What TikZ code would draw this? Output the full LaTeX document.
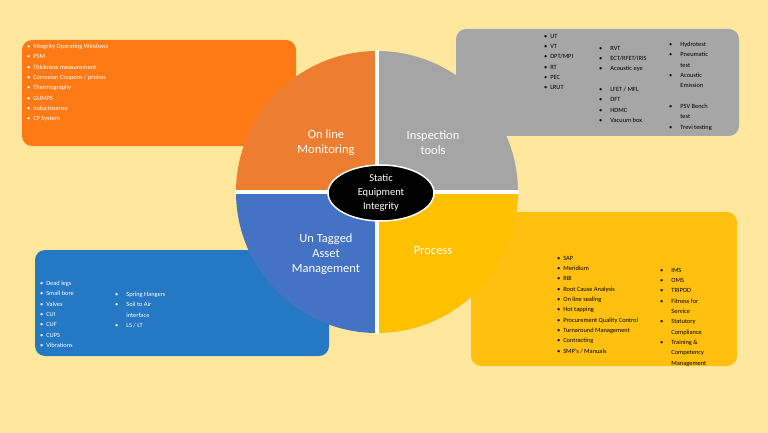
\documentclass[tikz,border=0pt]{standalone}
\usepackage{fontspec}
\setmainfont{Carlito}
\usetikzlibrary{shapes.geometric}
\definecolor{bg}{HTML}{FFE89E}
\definecolor{cOr}{HTML}{ED7D31}
\definecolor{cGr}{HTML}{A5A5A5}
\definecolor{cYe}{HTML}{FFC000}
\definecolor{cBl}{HTML}{4472C4}
\definecolor{bOr}{HTML}{FF7A14}
\definecolor{bGr}{HTML}{A6A6A6}
\definecolor{bYe}{HTML}{FFC010}
\definecolor{bBl}{HTML}{2478C4}
\begin{document}
\begin{tikzpicture}[x=1pt,y=-1pt,
  box/.style={rounded corners=10pt},
  lst/.style={anchor=north west,align=left,inner sep=0pt,font=\fontsize{6.4}{10.3}\selectfont},
  ttl/.style={align=center,text=white,font=\fontsize{12.5}{15}\selectfont}]
\fill[bg] (0,0) rectangle (768,433);
\useasboundingbox (0,0) rectangle (768,433);
% boxes
\fill[bOr,box] (22,40) rectangle (296,146);
\fill[bGr,box] (456,29) rectangle (739,136);
\fill[bYe,box] (471,212) rectangle (737,366);
\fill[bBl,box] (35,250) rectangle (329,356);
% circle quadrants
\coordinate (c) at (377,192);
\fill[cOr] (c) -- ++(-141,0) arc[start angle=180,end angle=270,radius=141] -- cycle;
\fill[cGr] (c) -- ++(0,-141) arc[start angle=270,end angle=360,radius=141] -- cycle;
\fill[cYe] (c) -- ++(141,0) arc[start angle=0,end angle=90,radius=141] -- cycle;
\fill[cBl] (c) -- ++(0,141) arc[start angle=90,end angle=180,radius=141] -- cycle;
\draw[white,line width=4pt] (235,192) -- (519,192) (377,50) -- (377,334);
\node[ttl] (q1) at (326,143) {On line\\Monitoring};
\node[ttl] (q2) at (433,143) {Inspection\\tools};
\node[ttl] (q3) at (326,254) {Un Tagged\\Asset\\Management};
\node[ttl] (q4) at (433,251) {Process};
\node[ellipse,fill=black,draw=white,line width=1.5pt,minimum width=106pt,minimum height=56pt,text=white,align=center,inner sep=0pt,font=\fontsize{10.5}{14}\selectfont] (ctr) at (381,193) {Static\\Equipment\\Integrity};
% lists
\node[lst,text=white] (l1) at (27,44) {\textbullet\ \ Integrity Operating Windows\\ \textbullet\ \ PSM\\ \textbullet\ \ Thickness measurement\\ \textbullet\ \ Corrosion Coupons / probes\\ \textbullet\ \ Thermography\\ \textbullet\ \ GUMPS\\ \textbullet\ \ Inductosense\\ \textbullet\ \ CP System};
\node[lst] (g1) at (544,34) {\textbullet\ \ UT\\ \textbullet\ \ VT\\ \textbullet\ \ DPT/MPI\\ \textbullet\ \ RT\\ \textbullet\ \ PEC\\ \textbullet\ \ LRUT};
\node[lst] (g2) at (599,46) {\textbullet\hspace{8pt}RVT\\ \textbullet\hspace{8pt}ECT/RFET/IRIS\\ \textbullet\hspace{8pt}Acoustic eye\\ ~\\ \textbullet\hspace{8pt}LFET / MFL\\ \textbullet\hspace{8pt}DFT\\ \textbullet\hspace{8pt}HDMC\\ \textbullet\hspace{8pt}Vacuum box};
\node[lst] (g3) at (669,42) {\textbullet\hspace{8pt}Hydrotest\\ \textbullet\hspace{8pt}Pneumatic\\ \phantom{\textbullet}\hspace{8pt}test\\ \textbullet\hspace{8pt}Acoustic\\ \phantom{\textbullet}\hspace{8pt}Emission\\ ~\\ \textbullet\hspace{8pt}PSV Bench\\ \phantom{\textbullet}\hspace{8pt}test\\ \textbullet\hspace{8pt}Trevi testing};
\node[lst] (y1) at (557,256) {\textbullet\ \ SAP\\ \textbullet\ \ Meridium\\ \textbullet\ \ RBI\\ \textbullet\ \ Root Cause Analysis\\ \textbullet\ \ On line sealing\\ \textbullet\ \ Hot tapping\\ \textbullet\ \ Procurement Quality Control\\ \textbullet\ \ Turnaround Management\\ \textbullet\ \ Contracting\\ \textbullet\ \ SMP's / Manuals};
\node[lst] (y2) at (660,268) {\textbullet\hspace{8pt}IMS\\ \textbullet\hspace{8pt}OMS\\ \textbullet\hspace{8pt}TRIPOD\\ \textbullet\hspace{8pt}Fitness for\\ \phantom{\textbullet}\hspace{8pt}Service\\ \textbullet\hspace{8pt}Statutory\\ \phantom{\textbullet}\hspace{8pt}Compliance\\ \textbullet\hspace{8pt}Training \&\\ \phantom{\textbullet}\hspace{8pt}Competency\\ \phantom{\textbullet}\hspace{8pt}Management};
\node[lst,text=white] (b1) at (40,281) {\textbullet\ \ Dead legs\\ \textbullet\ \ Small bore\\ \textbullet\ \ Valves\\ \textbullet\ \ CUI\\ \textbullet\ \ CUF\\ \textbullet\ \ CUPS\\ \textbullet\ \ Vibrations};
\node[lst,text=white] (b2) at (115,292) {\textbullet\hspace{8pt}Spring Hangers\\ \textbullet\hspace{8pt}Soil to Air\\ \phantom{\textbullet}\hspace{8pt}interface\\ \textbullet\hspace{8pt}LS / LT};
\end{tikzpicture}
\end{document}
